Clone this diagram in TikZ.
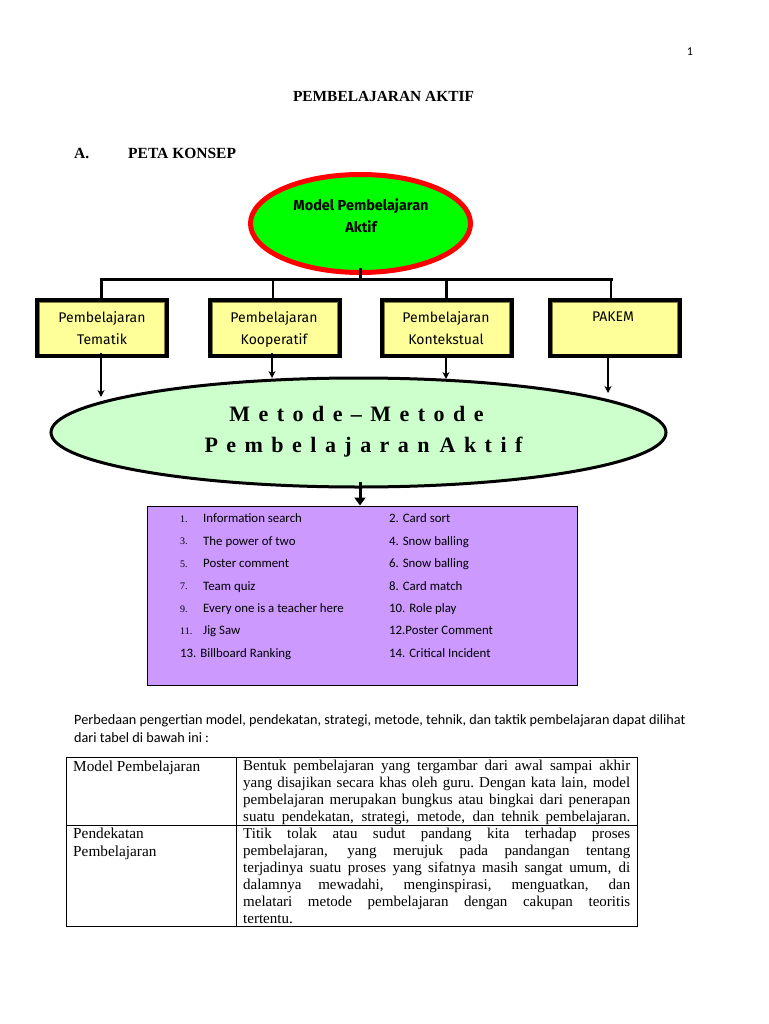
\documentclass[tikz,border=0pt]{standalone}
\usepackage{fontspec}
\setmainfont{Liberation Serif}
\newfontfamily\calibri{Carlito}
\newfontfamily\comic{Fira Sans}
\newfontfamily\spaced[LetterSpace=38.5]{Liberation Serif}
\definecolor{boxyellow}{HTML}{FFFF99}
\definecolor{palegreen}{HTML}{CCFFCC}
\definecolor{lilac}{HTML}{CC99FF}
\definecolor{boxshade}{HTML}{80803C}
\newcommand{\jl}[1]{\makebox[387pt][s]{\spaceskip=.25em plus 1fil minus .1em\xspaceskip=\spaceskip\relax #1}\\}
\tikzset{
  conceptbox/.style={draw=black,line width=4pt,fill=boxyellow,minimum width=130pt,minimum height=56pt,anchor=north west,inner sep=0pt},
  boxtext/.style={font=\comic\fontsize{14}{22}\selectfont,align=center,anchor=base},
  boxshadeline/.style={draw=boxshade,line width=1.2pt},
  bartrunk/.style={line width=3pt,draw=black},
  thinarrow/.style={draw=black,line width=1.2pt,-{Stealth[length=7pt,width=7pt]}},
  listtext/.style={font=\calibri\fontsize{12.85}{15}\selectfont,anchor=base west,inner sep=0pt},
  listnum/.style={font=\fontsize{10}{10}\selectfont,anchor=base west,inner sep=0pt},
  doctext/.style={font=\calibri\fontsize{14.23}{18}\selectfont,anchor=base west,inner sep=0pt},
  headtext/.style={font=\bfseries\fontsize{15.5}{16}\selectfont,anchor=base west,inner sep=0pt},
  celltext/.style={font=\fontsize{15.3}{18}\selectfont,anchor=north west,inner sep=0pt,align=left},
  cellbody/.style={font=\fontsize{15}{17}\selectfont,anchor=north west,inner sep=0pt,align=left},
  tableline/.style={draw=black,line width=0.8pt}
}
\usetikzlibrary{arrows.meta,shapes.geometric}
\begin{document}
\begin{tikzpicture}[x=1pt,y=-1pt]
\useasboundingbox (0,0) rectangle (768,1024);
\fill[white] (0,0) rectangle (768,1024);
\node[anchor=base,inner sep=0pt,font=\calibri\fontsize{12}{14}\selectfont] (pagenum) at (690,56) {1};
\node[anchor=base,inner sep=0pt,font=\bfseries\fontsize{15.4}{16}\selectfont] (title) at (383.5,101.5) {PEMBELAJARAN AKTIF};
\node[headtext] (seca) at (74,158.5) {A.};
\node[headtext] (secb) at (128,158.5) {PETA KONSEP};

% top ellipse
\node[ellipse,draw=red,line width=5pt,fill=green,minimum width=220pt,minimum height=98pt,inner sep=0pt] (top) at (360.5,223.5) {};
\node[font=\comic\fontsize{14.5}{22}\selectfont\bfseries,anchor=base] (topa) at (361,211) {Model Pembelajaran};
\node[font=\comic\fontsize{14.5}{22}\selectfont\bfseries,anchor=base] (topb) at (361,232.5) {Aktif};

% boxes
\node[conceptbox] (b1) at (35,298) {};
\node[conceptbox] (b2) at (208,298) {};
\node[conceptbox] (b3) at (380,298) {};
\node[conceptbox] (b4) at (548,298) {};
\foreach \b in {b1,b2,b3,b4}
  \draw[boxshadeline] ([shift={(4.6pt,4pt)}]\b.south west) -- ([shift={(4.6pt,-4.6pt)}]\b.north west) -- ([shift={(-4.6pt,-4.6pt)}]\b.north east) -- ([shift={(-4.6pt,4pt)}]\b.south east);
\node[boxtext] (t1a) at (102,322) {Pembelajaran};
\node[boxtext] (t1b) at (102,344) {Tematik};
\node[boxtext] (t2a) at (274,322) {Pembelajaran};
\node[boxtext] (t2b) at (274,344) {Kooperatif};
\node[boxtext] (t3a) at (446,322) {Pembelajaran};
\node[boxtext] (t3b) at (446,344) {Kontekstual};
\node[boxtext] (t4a) at (613,321) {PAKEM};

% connectors
\coordinate (bar) at (360.5,279.5);
\coordinate (barL) at (101,279.5);
\coordinate (barM) at (273,279.5);
\coordinate (barN) at (446,279.5);
\coordinate (barR) at (611,279.5);
\draw[bartrunk] ([yshift=7pt]top.south) -- (bar);
\draw[bartrunk,line cap=rect] (barL) -- (barR);
\draw[bartrunk] (barL) -- (b1.north -| barL);
\draw[draw=black,line width=1.5pt] (barM) -- (b2.north -| barM);
\draw[bartrunk] (barN) -- (b3.north -| barN);
\draw[draw=black,line width=2pt] (barR) -- (b4.north -| barR);

% big ellipse
\node[ellipse,draw=black,line width=3pt,fill=palegreen,minimum width=615pt,minimum height=109pt,inner sep=0pt] (big) at (358.5,432.5) {};
\node[font=\spaced\bfseries\fontsize{22}{26}\selectfont,anchor=base] (biga) at (356.5,421.5) {Metode–Metode};
\node[font=\spaced\bfseries\fontsize{22}{26}\selectfont,anchor=base] (bigb) at (363.5,452.5) {Pembelajaran\kern10pt Aktif};

\coordinate (e1) at (101,397);
\coordinate (e2) at (272,378);
\coordinate (e3) at (446,379);
\coordinate (e4) at (608,393);
\draw[thinarrow] ([yshift=5pt]b1.south -| e1) -- (e1);
\draw[thinarrow] ([yshift=5pt]b2.south -| e2) -- (e2);
\draw[thinarrow] (b3.south -| e3) -- (e3);
\draw[thinarrow] (b4.south -| e4) -- (e4);

% list box
\node[draw=black,line width=1pt,fill=lilac,minimum width=430pt,minimum height=179pt,anchor=north west,inner sep=0pt] (list) at (146.5,505.5) {};
\coordinate (bigout) at (360,482);
\draw[draw=black,line width=3pt,-{Triangle[length=8pt,width=11pt]}] (bigout) -- (list.north -| bigout);

\node[listnum] (n1) at (180,522) {1.};
\node[listtext] (l1) at (203,522.5) {Information search};
\node[listnum] (n3) at (180,544.5) {3.};
\node[listtext] (l3) at (203,545) {The power of two};
\node[listnum] (n5) at (180,567) {5.};
\node[listtext] (l5) at (203,567.5) {Poster comment};
\node[listnum] (n7) at (180,589.5) {7.};
\node[listtext] (l7) at (203,590) {Team quiz};
\node[listnum] (n9) at (180,612) {9.};
\node[listtext] (l9) at (203,612) {Every one is a teacher here};
\node[listnum] (n11) at (180,634) {11.};
\node[listtext] (l11) at (203,634.5) {Jig Saw};
\node[listtext] (l13) at (180,657) {13. Billboard Ranking};
\node[listtext] (r2) at (389,522.5) {2. Card sort};
\node[listtext] (r4) at (389,545) {4. Snow balling};
\node[listtext] (r6) at (389,567.5) {6. Snow balling};
\node[listtext] (r8) at (389,590) {8. Card match};
\node[listtext] (r10) at (389,612) {10. Role play};
\node[listtext] (r12) at (389,634.5) {12.Poster Comment};
\node[listtext] (r14) at (389,657) {14. Critical Incident};

% paragraph
\node[doctext] (p1) at (74,724) {Perbedaan pengertian model, pendekatan, strategi, metode, tehnik, dan taktik pembelajaran dapat dilihat};
\node[doctext] (p2) at (74,742) {dari tabel di bawah ini :};

% table
\draw[tableline] (66,757) rectangle (637,926);
\draw[tableline] (66,825.5) -- (637,825.5);
\draw[tableline] (236,757) -- (236,926);
\node[celltext] (c11) at (73,760.5) {Model Pembelajaran};
\node[celltext] (c21) at (73,827.5) {Pendekatan\\Pembelajaran};
\node[cellbody,text width=387pt] (c12) at (243,759.5) {\jl{Bentuk pembelajaran yang tergambar dari awal sampai akhir}\jl{yang disajikan secara khas oleh guru. Dengan kata lain, model}\jl{pembelajaran merupakan bungkus atau bingkai dari penerapan}\jl{suatu pendekatan, strategi, metode, dan tehnik pembelajaran.}};
\node[cellbody,text width=387pt] (c22) at (243,827.5) {\jl{Titik tolak atau sudut pandang kita terhadap proses}\jl{pembelajaran, yang merujuk pada pandangan tentang}\jl{terjadinya suatu proses yang sifatnya masih sangat umum, di}\jl{dalamnya mewadahi, menginspirasi, menguatkan, dan}\jl{melatari metode pembelajaran dengan cakupan teoritis}tertentu.};
\end{tikzpicture}
\end{document}
